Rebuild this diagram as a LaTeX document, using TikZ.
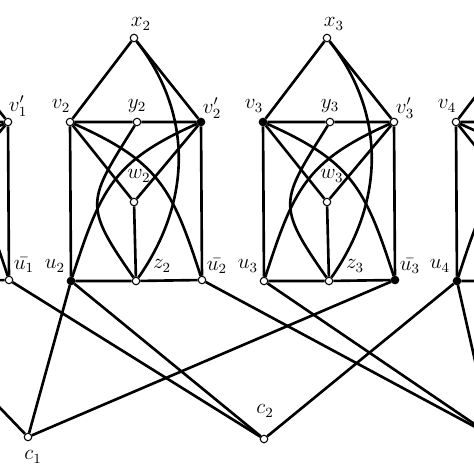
\documentclass[tikz,border=0pt]{standalone}
\usepackage{amsmath,amssymb}
\usetikzlibrary{positioning}

\begin{document}
\begin{tikzpicture}[x=0.02cm, y=0.02cm, line width=1.5pt,
        vert/.style={circle, draw, fill=white, line width=0.6pt, inner sep=0pt, minimum size=0.15cm},
        lab/.style={font=\large, inner sep=0pt}]
    \useasboundingbox (0,0) rectangle (474,474);
    \clip (0,0) rectangle (474,474);
    % one gadget per variable, fill of v/ubar and v'/u
    \foreach \g/\dx/\fa/\fb in {1/-193/white/white, 2/0/white/black, 3/193/black/white, 4/386/white/black} {
        \begin{scope}[shift={(\dx,0)}]
            \node[vert] (x\g) at (134,436) {};
            \node[vert, fill=\fa] (v\g) at (70,352) {};
            \node[vert] (y\g) at (137,352) {};
            \node[vert, fill=\fb] (vp\g) at (201,352) {};
            \node[vert] (w\g) at (134,272) {};
            \node[vert, fill=\fb] (u\g) at (71,193) {};
            \node[vert] (z\g) at (136,193) {};
            \node[vert, fill=\fa] (ub\g) at (202,194) {};
            \draw (x\g) -- (v\g) -- (y\g) -- (vp\g) -- (x\g);
            \draw (v\g) -- (u\g) -- (z\g) -- (ub\g) -- (vp\g);
            \draw (v\g) -- (w\g) -- (vp\g);
            \draw (w\g) -- (z\g);
            \draw (y\g) to[out=238, in=125, looseness=1.5] (z\g);
            \draw (x\g) to[out=-52, in=55] (z\g);
            \draw (v\g) to[out=-24, in=108, looseness=1.2] (ub\g);
            \draw (vp\g) to[out=204, in=72, looseness=1.2] (u\g);
        \end{scope}
    }
    % labels of the two whole gadgets
    \foreach \g in {2,3} {
        \node[lab, shift={(7,14)}] (lx\g) at (x\g) {$x_{\g}$};
        \node[lab, shift={(-9,16)}] (lv\g) at (v\g) {$v_{\g}$};
        \node[lab, shift={(0,16)}] (ly\g) at (y\g) {$y_{\g}$};
        \node[lab, shift={(11,14)}] (lvp\g) at (vp\g) {$v_{\g}'$};
        \node[lab, shift={(5,26)}] (lw\g) at (w\g) {$w_{\g}$};
        \node[lab, shift={(-16,15)}] (lu\g) at (u\g) {$u_{\g}$};
        \node[lab, shift={(26,15)}] (lz\g) at (z\g) {$z_{\g}$};
        \node[lab, shift={(15,14)}] (lub\g) at (ub\g) {$\bar{u_{\g}}$};
    }
    \node[lab, shift={(10,16)}] (lvp1) at (vp1) {$v_1'$};
    \node[lab, shift={(15,15)}] (lub1) at (ub1) {$\bar{u_1}$};
    \node[lab, shift={(-9,16)}] (lv4) at (v4) {$v_4$};
    \node[lab, shift={(-17,15)}] (lu4) at (u4) {$u_4$};
    % clauses
    \node[vert] (c1) at (28,37) {};
    \node[vert] (c2) at (264,35) {};
    \node[vert] (c3) at (492,38) {};
    \node[lab, shift={(5,-20)}] (lc1) at (c1) {$c_1$};
    \node[lab, shift={(1,28)}] (lc2) at (c2) {$c_2$};
    \draw (u1) -- (c1);
    \draw (u2) -- (c1);
    \draw (ub3) -- (c1);
    \draw (ub1) -- (c2);
    \draw (u2) -- (c2);
    \draw (u4) -- (c2);
    \draw (ub2) -- (c3);
    \draw (u3) -- (c3);
    \draw (u4) -- (c3);
\end{tikzpicture}
\end{document}
